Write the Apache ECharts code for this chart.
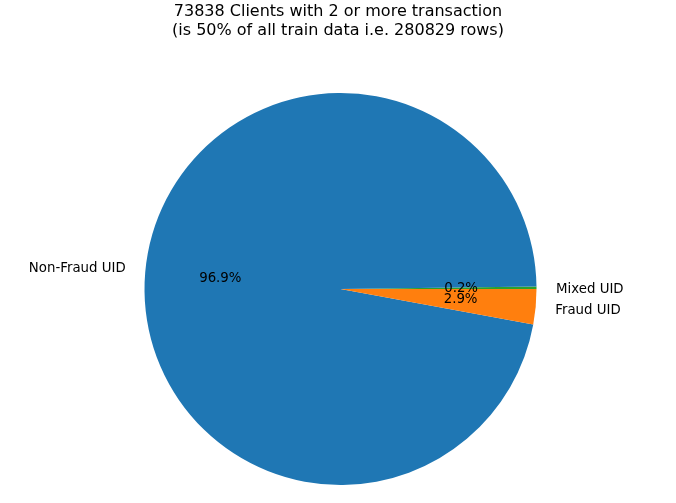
<!DOCTYPE html>
<html>
<head>
<meta charset="utf-8">
<script src="https://cdn.jsdelivr.net/npm/echarts@6/dist/echarts.min.js"></script>
<style>html,body{margin:0;padding:0;background:#fff;}#c{width:676px;height:503px;}</style>
</head>
<body>
<div id="c"></div>
<script>
var categories = ['Mixed UID', 'Non-Fraud UID', 'Fraud UID'];
var values = [0.2, 96.9, 2.9];
var colors = ['#2ca02c', '#1f77b4', '#ff7f0e'];
var titleLines = ['73838 Clients with 2 or more transaction', '(is 50% of all train data i.e. 280829 rows)'];

var R = 196, CX = 340.5, CY = 289;
var font = 'DejaVu Sans';

var chart = echarts.init(document.getElementById('c'), null, {renderer: 'canvas'});
var outerData = categories.map(function (n, i) {
  return {name: n, value: values[i], itemStyle: {color: colors[i]}};
});
var innerData = categories.map(function (n, i) {
  return {name: n, value: values[i]};
});
chart.setOption({
  animation: false,
  backgroundColor: '#fff',
  title: {
    text: titleLines.join('\n'),
    left: 'center',
    top: 2,
    padding: 0,
    textStyle: {fontFamily: font, fontSize: 16, fontWeight: 'normal', color: '#000', lineHeight: 19.2}
  },
  series: [
    {
      type: 'pie',
      center: [CX, CY],
      radius: [0, R],
      startAngle: 0,
      clockwise: false,
      avoidLabelOverlap: false,
      silent: true,
      data: outerData,
      itemStyle: {borderWidth: 0},
      label: {
        show: true,
        position: 'outside',
        formatter: '{b}',
        fontFamily: font,
        fontSize: 13.33,
        color: '#000',
        distanceToLabelLine: 0
      },
      labelLine: {show: false, length: R * 0.1, length2: 0},
      labelLayout: function (p) {
        return {hideOverlap: false, dy: p.dataIndex === 1 ? -2 : 1.5};
      },
      emphasis: {disabled: true}
    },
    {
      type: 'pie',
      center: [CX, CY],
      radius: [0, R * 1.2],
      startAngle: 0,
      clockwise: false,
      avoidLabelOverlap: false,
      minShowLabelAngle: 0,
      silent: true,
      data: innerData,
      itemStyle: {color: 'rgba(0,0,0,0)', borderWidth: 0},
      label: {
        show: true,
        position: 'inside',
        formatter: function (p) { return p.value.toFixed(1) + '%'; },
        fontFamily: font,
        fontSize: 13.33,
        color: '#000'
      },
      labelLayout: {hideOverlap: false},
      labelLine: {show: false},
      emphasis: {disabled: true}
    }
  ]
});
</script>
</body>
</html>
